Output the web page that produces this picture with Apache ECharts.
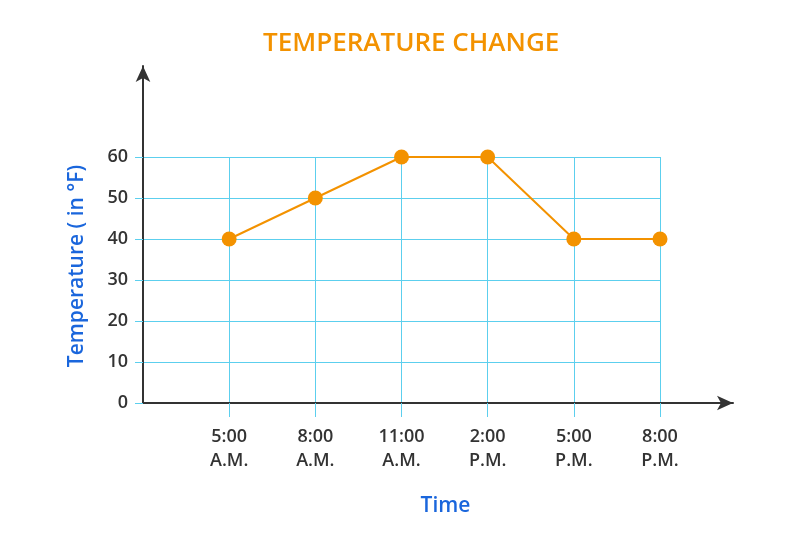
<!DOCTYPE html>
<html>
<head>
<meta charset="utf-8">
<title>Temperature Change</title>
<script src="https://cdn.jsdelivr.net/npm/echarts@6/dist/echarts.min.js"></script>
<style>
  html, body { margin: 0; padding: 0; background: #fff; }
  #main { width: 800px; height: 538px; }
</style>
</head>
<body>
<div id="main"></div>
<script>
// data
var times = ['5:00\nA.M.', '8:00\nA.M.', '11:00\nA.M.', '2:00\nP.M.', '5:00\nP.M.', '8:00\nP.M.'];
var temps = [40, 50, 60, 60, 40, 40];
var yTicks = [0, 10, 20, 30, 40, 50, 60];

var orange = '#F39200';
var cyan = '#5ccfee';
var blue = '#1a66dc';
var dark = '#333333';
var font = 'Open Sans';

var positions = times.map(function (t, i) { return i + 1; });
var points = temps.map(function (v, i) { return [i + 1, v]; });

var myChart = echarts.init(document.getElementById('main'));

var option = {
    backgroundColor: '#fff',
    title: {
        text: 'TEMPERATURE CHANGE',
        left: 263,
        top: 31,
        padding: 0,
        textStyle: {
            color: orange,
            fontFamily: font,
            fontSize: 26,
            fontWeight: 600
        }
    },
    grid: [
        // data area
        { left: 143, top: 157, width: 517, height: 246 },
        // axis lines with arrows
        { left: 143, top: 66, width: 590, height: 337 }
    ],
    xAxis: [{
        type: 'value',
        gridIndex: 0,
        min: 0,
        max: times.length,
        interval: 1,
        name: 'Time',
        nameLocation: 'middle',
        nameGap: 93,
        nameTextStyle: {
            color: blue,
            fontFamily: font,
            fontSize: 21,
            fontWeight: 600,
            padding: [0, 0, 0, 88]
        },
        axisLine: { show: false },
        axisTick: {
            show: true,
            length: 14,
            customValues: positions,
            lineStyle: { color: cyan, width: 1 }
        },
        axisLabel: {
            customValues: positions,
            margin: 22,
            color: dark,
            fontFamily: font,
            fontSize: 18,
            fontWeight: 600,
            lineHeight: 24,
            formatter: function (v) { return times[Math.round(v) - 1] || ''; }
        },
        splitLine: { show: true, lineStyle: { color: cyan, width: 1 } }
    }, {
        type: 'value',
        gridIndex: 1,
        min: 0,
        max: 1,
        axisLine: {
            show: true,
            symbol: ['none', 'arrow'],
            symbolSize: [11, 16],
            lineStyle: { color: dark, width: 2 }
        },
        axisTick: { show: false },
        axisLabel: { show: false },
        splitLine: { show: false }
    }],
    yAxis: [{
        type: 'value',
        gridIndex: 0,
        min: yTicks[0],
        max: yTicks[yTicks.length - 1],
        interval: 10,
        name: 'Temperature ( in °F)',
        nameLocation: 'middle',
        nameGap: 55,
        nameTextStyle: {
            color: blue,
            fontFamily: font,
            fontSize: 21,
            fontWeight: 600,
            padding: [0, 0, 0, 28]
        },
        axisLine: { show: false },
        axisTick: {
            show: true,
            length: 8,
            lineStyle: { color: cyan, width: 1 }
        },
        axisLabel: {
            margin: 15,
            color: dark,
            fontFamily: font,
            fontSize: 18,
            fontWeight: 600
        },
        splitLine: { show: true, lineStyle: { color: cyan, width: 1 } }
    }, {
        type: 'value',
        gridIndex: 1,
        min: 0,
        max: 1,
        axisLine: {
            show: true,
            symbol: ['none', 'arrow'],
            symbolSize: [11, 16],
            lineStyle: { color: dark, width: 2 }
        },
        axisTick: { show: false },
        axisLabel: { show: false },
        splitLine: { show: false }
    }],
    series: [{
        name: 'Temperature',
        type: 'line',
        xAxisIndex: 0,
        yAxisIndex: 0,
        data: points,
        symbol: 'circle',
        symbolSize: 15,
        lineStyle: { color: orange, width: 2 },
        itemStyle: { color: orange },
        z: 5
    }]
};

myChart.setOption(option);
</script>
</body>
</html>
